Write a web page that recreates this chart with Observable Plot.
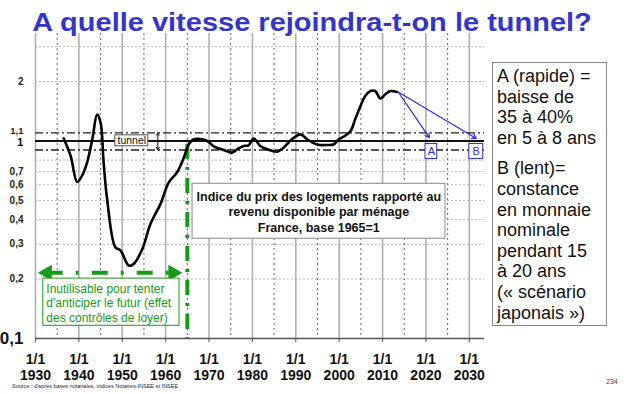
<!DOCTYPE html>
<html>
<head>
<meta charset="utf-8">
<script src="https://cdn.jsdelivr.net/npm/d3@7"></script>
<script src="https://cdn.jsdelivr.net/npm/@observablehq/plot@0.6"></script>
<style>
  html, body { margin: 0; padding: 0; background: white; }
  #wrap { position: relative; width: 624px; height: 394px; overflow: hidden; font-family: "Liberation Sans", Arial, sans-serif; }
  #wrap svg { position: absolute; left: 0; top: 0; }
  #title { position: absolute; left: 0; top: 7px; width: 624px; text-align: center; font-size: 29px; line-height: 29px; font-weight: bold; color: #3535c8; transform: scaleY(0.86); transform-origin: 50% 25px; white-space: nowrap; }
  #side { position: absolute; left: 492px; top: 62px; width: 115px; height: 264px; border: 1px solid #888; box-sizing: border-box; padding: 3px 0 0 4px; font-size: 18px; line-height: 20.6px; color: #111; background: white; }
  #side p { margin: 0; }
  #side p + p { margin-top: 10px; }
  #source { position: absolute; left: 12px; top: 383px; font-size: 5.5px; color: #223; white-space: nowrap; }
  #page { position: absolute; left: 606px; top: 378px; font-size: 7px; color: #444; }
</style>
</head>
<body>
<div id="wrap">
  <div id="chart"></div>
  <div id="title">A quelle vitesse rejoindra-t-on le tunnel?</div>
  <div id="side">
    <p>A (rapide) =<br>baisse de<br>35 à 40%<br>en 5 à 8 ans</p>
    <p>B (lent)=<br>constance<br>en monnaie<br>nominale<br>pendant 15<br>à 20 ans<br>(« scénario<br>japonais »)</p>
  </div>
  <div id="source">Source : d'après bases notariales, indices Notaires-INSEE et INSEE</div>
  <div id="page">234</div>
</div>
<script>
// ---- Data: house price index / disposable income per household, France, base 1965 = 1
const years = [1936.5, 1938.1, 1939.6, 1940.7, 1941.9, 1943.1, 1944.2, 1945.0, 1945.7, 1946.5,
  1948.4, 1949.6, 1951.5, 1952.6, 1954.6, 1956.5, 1958.8, 1960.7, 1962.6, 1964.2,
  1965.3, 1966.5, 1969.6, 1971.1, 1973.4, 1975.3, 1976.8, 1978.0, 1979.1, 1980.3,
  1981.8, 1983.4, 1985.7, 1987.2, 1989.1, 1991.1, 1992.6, 1994.9, 1997.2, 1998.7,
  1999.9, 2001.0, 2002.6, 2003.7, 2004.9, 2006.0, 2007.2, 2008.3, 2009.5, 2010.6,
  2011.8, 2013.3];
const values = [1.03, 0.84, 0.62, 0.665, 0.78, 1.02, 1.36, 1.24, 0.78, 0.51,
  0.29, 0.279, 0.234, 0.238, 0.283, 0.38, 0.479, 0.616, 0.692, 0.824,
  0.96, 1.02, 1.0, 0.94, 0.90, 0.873, 0.918, 0.944, 0.95, 1.03,
  0.944, 0.908, 0.883, 0.925, 1.02, 1.08, 1.02, 0.96, 0.954, 0.96,
  1.02, 1.05, 1.12, 1.29, 1.50, 1.69, 1.79, 1.79, 1.64, 1.72,
  1.79, 1.77];

// ---- Axes / grid
const decades = [1930, 1940, 1950, 1960, 1970, 1980, 1990, 2000, 2010, 2020, 2030];
const midDecades = [1935, 1945, 1955, 1965, 1975, 1985, 1995, 2005, 2015, 2025];
const gridY = [3, 2, 0.8, 0.7, 0.6, 0.5, 0.4, 0.3, 0.2];
const yTicksSmall = [2, 0.9, 0.8, 0.7, 0.6, 0.5, 0.4, 0.3, 0.2];
const yTickUpper = [1.1];
const yTickOne = [1];
const yTickBase = [0.1];
const tunnelCenter = [1];
const tunnelBounds = [1.1, 0.9];

// ---- Annotations (data coordinates)
const tunnelLabel = [{x1: 1948.4, x2: 1956.0, y1: 1.068, y2: 0.94, x: 1952.2, y: 1.0, text: "tunnel"}];
const tunnelArrowX = 1958.2;
const infoBox = [{x1: 1966.2, x2: 2024.5, y1: 0.607, y2: 0.32, x: 1995.3, y: 0.44,
  text: "Indice du prix des logements rapporté au\nrevenu disponible par ménage\nFrance, base 1965=1"}];
const greenBox = [{x1: 1931.8, x2: 1963.2, y1: 0.201, y2: 0.116, x: 1932.5, y: 0.152,
  text: "Inutilisable pour tenter\nd'anticiper le futur (effet\ndes contrôles de loyer)"}];
const greenArrow = {y: 0.215, x1: 1932.7, x2: 1961.7};
const greenVertical = {x: 1965, y1: 0.96, y2: 0.1};
const scenarios = [
  {name: "A", ax: 2020.8, ay: 1.04, x1: 2019.9, x2: 2022.6, x: 2021.25},
  {name: "B", ax: 2031.6, ay: 1.03, x1: 2030.0, x2: 2033.2, x: 2031.6}
];
const scenarioBox = {y1: 0.966, y2: 0.811, y: 0.885};
const lastPoint = {x: 2013.6, y: 1.77};

const series = years.map((y, i) => ({year: y, value: values[i]}));
const green = "#179a17";
const blue = "#2a2ae8";

const chart = Plot.plot({
  width: 624,
  height: 394,
  marginTop: 33,
  marginBottom: 56,
  marginLeft: 35,
  marginRight: 140,
  x: {domain: [1930, 2033.5]},
  y: {type: "log", domain: [0.1, 3.5]},
  style: {fontFamily: "'Liberation Sans', Arial, sans-serif", background: "transparent", overflow: "visible"},
  marks: [
    Plot.ruleY(gridY, {stroke: "#b5b5b5", strokeWidth: 1, strokeDasharray: "2,2"}),
    Plot.ruleX(decades, {stroke: "#b0b0b0", strokeWidth: 1.6}),
    Plot.ruleX(midDecades, {stroke: "#666", strokeWidth: 1, strokeDasharray: "2,3"}),
    Plot.ruleY(tunnelBounds, {stroke: "#222", strokeWidth: 1.3, strokeDasharray: "8,3,2,3"}),
    Plot.ruleY(tunnelCenter, {stroke: "#111", strokeWidth: 2}),
    Plot.ruleY(yTickBase, {stroke: "#555", strokeWidth: 1.5}),
    Plot.axisX(decades, {
      tickFormat: d => "1/1\n" + d, tickSize: 4, tickPadding: 10, stroke: "#555",
      fontSize: 14, fontWeight: "bold", fill: "#111", lineHeight: 1.15
    }),
    Plot.axisY(yTicksSmall, {tickFormat: d => String(d).replace(".", ","), tickSize: 0, tickPadding: 12, fontSize: 10, fontWeight: "bold", fill: "#222"}),
    Plot.axisY(yTickUpper, {tickFormat: d => String(d).replace(".", ","), tickSize: 0, tickPadding: 12, fontSize: 9.5, fontWeight: "bold", fill: "#222", dy: -2}),
    Plot.axisY(yTickOne, {tickFormat: d => String(d), tickSize: 0, tickPadding: 12, fontSize: 11.5, fontWeight: "bold", fill: "#111", dy: 1.5}),
    Plot.axisY(yTickBase, {tickFormat: d => String(d).replace(".", ","), tickSize: 0, tickPadding: 12, fontSize: 17, fontWeight: "bold", fill: "#111"}),
    // green vertical dash-dot line at 1965
    Plot.ruleX([greenVertical.x], {y1: greenVertical.y1, y2: greenVertical.y2, stroke: green, strokeWidth: 4, strokeDasharray: "15,8,3,8"}),
    // series
    Plot.line(series, {x: "year", y: "value", stroke: "#000", strokeWidth: 2.6, curve: "catmull-rom"}),
    // info box
    Plot.rect(infoBox, {x1: "x1", x2: "x2", y1: "y1", y2: "y2", fill: "white", stroke: "#888", strokeWidth: 1}),
    Plot.text(infoBox, {x: "x", y: "y", text: "text", fontSize: 12.5, fontWeight: "bold", fill: "#111", lineHeight: 1.24}),
    // green box + arrow
    Plot.ruleY([greenArrow.y], {x1: greenArrow.x1, x2: greenArrow.x2, stroke: green, strokeWidth: 4, strokeDasharray: "16,13,3,13"}),
    Plot.dot([{x: greenArrow.x1, y: greenArrow.y, r: -90}, {x: greenArrow.x2, y: greenArrow.y, r: 90}],
      {x: "x", y: "y", rotate: "r", symbol: "triangle", r: 6, fill: green, stroke: "none"}),
    Plot.rect(greenBox, {x1: "x1", x2: "x2", y1: "y1", y2: "y2", fill: "white", stroke: green, strokeWidth: 1}),
    Plot.text(greenBox, {x: "x", y: "y", text: "text", textAnchor: "start", fontSize: 12, fill: green, lineHeight: 1.22}),
    // tunnel label
    Plot.rect(tunnelLabel, {x1: "x1", x2: "x2", y1: "y1", y2: "y2", fill: "white", stroke: "#555", strokeWidth: 1}),
    Plot.text(tunnelLabel, {x: "x", y: "y", text: "text", fontSize: 10.5, fill: "#111"}),
    Plot.arrow([{y2: 1.1}, {y2: 0.9}], {x1: tunnelArrowX, x2: tunnelArrowX, y1: 1.0, y2: "y2", stroke: "#111", strokeWidth: 1, headLength: 5}),
    // scenario arrows and boxes
    Plot.arrow(scenarios, {x1: lastPoint.x, y1: lastPoint.y, x2: "ax", y2: "ay", stroke: blue, strokeWidth: 1.2, headLength: 6}),
    Plot.rect(scenarios, {x1: "x1", x2: "x2", y1: scenarioBox.y1, y2: scenarioBox.y2, fill: "white", stroke: blue, strokeWidth: 1}),
    Plot.text(scenarios, {x: "x", y: scenarioBox.y, text: "name", fontSize: 11, fill: blue})
  ]
});
document.getElementById("chart").appendChild(chart);
</script>
</body>
</html>
